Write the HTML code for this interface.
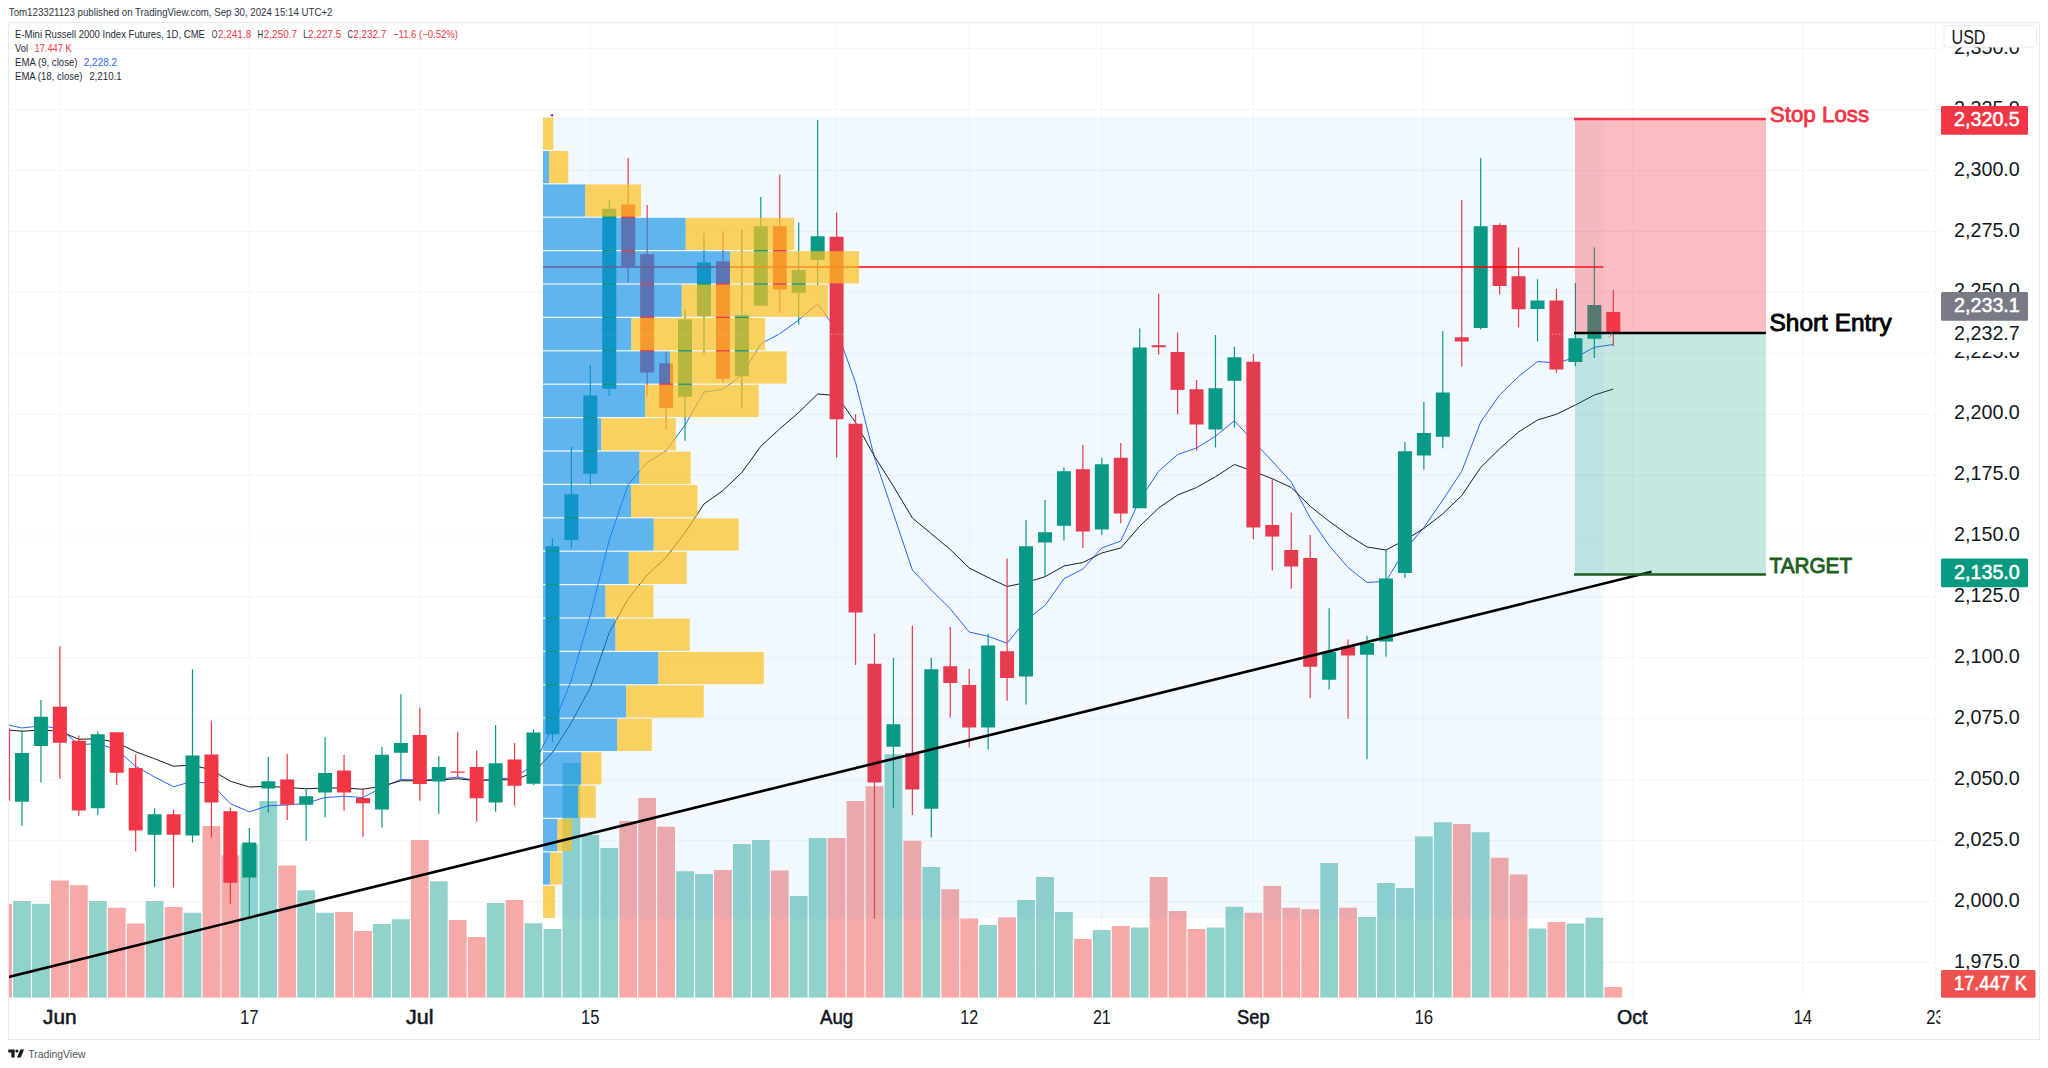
<!DOCTYPE html>
<html lang="en"><head><meta charset="utf-8"><title>E-Mini Russell 2000 Index Futures</title>
<style>html,body{margin:0;padding:0;background:#fff;}body{width:2048px;height:1068px;overflow:hidden;}svg{display:block;font-family:"Liberation Sans", sans-serif;}</style>
</head><body>
<svg width="2048" height="1068" viewBox="0 0 2048 1068">
<defs><clipPath id="pane"><rect x="8.4" y="22.5" width="1931.9" height="975.3"/></clipPath>
<clipPath id="taxis"><rect x="8.4" y="997.8" width="1931.9" height="41.5"/></clipPath></defs>
<rect x="0" y="0" width="2048" height="1068" fill="#ffffff"/>
<g>
<line x1="8.4" y1="48.66" x2="1940.3" y2="48.66" stroke="#F4F5F6" stroke-width="1"/>
<line x1="8.4" y1="109.58" x2="1940.3" y2="109.58" stroke="#F4F5F6" stroke-width="1"/>
<line x1="8.4" y1="170.5" x2="1940.3" y2="170.5" stroke="#F4F5F6" stroke-width="1"/>
<line x1="8.4" y1="231.42" x2="1940.3" y2="231.42" stroke="#F4F5F6" stroke-width="1"/>
<line x1="8.4" y1="292.34" x2="1940.3" y2="292.34" stroke="#F4F5F6" stroke-width="1"/>
<line x1="8.4" y1="353.26" x2="1940.3" y2="353.26" stroke="#F4F5F6" stroke-width="1"/>
<line x1="8.4" y1="414.18" x2="1940.3" y2="414.18" stroke="#F4F5F6" stroke-width="1"/>
<line x1="8.4" y1="475.1" x2="1940.3" y2="475.1" stroke="#F4F5F6" stroke-width="1"/>
<line x1="8.4" y1="536.02" x2="1940.3" y2="536.02" stroke="#F4F5F6" stroke-width="1"/>
<line x1="8.4" y1="596.94" x2="1940.3" y2="596.94" stroke="#F4F5F6" stroke-width="1"/>
<line x1="8.4" y1="657.86" x2="1940.3" y2="657.86" stroke="#F4F5F6" stroke-width="1"/>
<line x1="8.4" y1="718.78" x2="1940.3" y2="718.78" stroke="#F4F5F6" stroke-width="1"/>
<line x1="8.4" y1="779.7" x2="1940.3" y2="779.7" stroke="#F4F5F6" stroke-width="1"/>
<line x1="8.4" y1="840.62" x2="1940.3" y2="840.62" stroke="#F4F5F6" stroke-width="1"/>
<line x1="8.4" y1="901.54" x2="1940.3" y2="901.54" stroke="#F4F5F6" stroke-width="1"/>
<line x1="8.4" y1="962.46" x2="1940.3" y2="962.46" stroke="#F4F5F6" stroke-width="1"/>
<line x1="59.89" y1="22.5" x2="59.89" y2="997.8" stroke="#F6F6F8" stroke-width="1"/>
<line x1="249.33" y1="22.5" x2="249.33" y2="997.8" stroke="#F6F6F8" stroke-width="1"/>
<line x1="419.82" y1="22.5" x2="419.82" y2="997.8" stroke="#F6F6F8" stroke-width="1"/>
<line x1="590.32" y1="22.5" x2="590.32" y2="997.8" stroke="#F6F6F8" stroke-width="1"/>
<line x1="836.59" y1="22.5" x2="836.59" y2="997.8" stroke="#F6F6F8" stroke-width="1"/>
<line x1="969.2" y1="22.5" x2="969.2" y2="997.8" stroke="#F6F6F8" stroke-width="1"/>
<line x1="1101.81" y1="22.5" x2="1101.81" y2="997.8" stroke="#F6F6F8" stroke-width="1"/>
<line x1="1253.36" y1="22.5" x2="1253.36" y2="997.8" stroke="#F6F6F8" stroke-width="1"/>
<line x1="1423.86" y1="22.5" x2="1423.86" y2="997.8" stroke="#F6F6F8" stroke-width="1"/>
<line x1="1632.24" y1="22.5" x2="1632.24" y2="997.8" stroke="#F6F6F8" stroke-width="1"/>
<line x1="1802.74" y1="22.5" x2="1802.74" y2="997.8" stroke="#F6F6F8" stroke-width="1"/>
<line x1="1935.34" y1="22.5" x2="1935.34" y2="997.8" stroke="#F6F6F8" stroke-width="1"/>
</g>
<g clip-path="url(#pane)">
<g>
<rect x="-5.84" y="903.75" width="17.8" height="94.05" fill="#F7A9A7"/>
<rect x="13.1" y="901" width="17.8" height="96.8" fill="#92D2CC"/>
<rect x="32.04" y="903.75" width="17.8" height="94.05" fill="#92D2CC"/>
<rect x="50.99" y="880.5" width="17.8" height="117.3" fill="#F7A9A7"/>
<rect x="69.93" y="885.25" width="17.8" height="112.55" fill="#F7A9A7"/>
<rect x="88.88" y="901" width="17.8" height="96.8" fill="#92D2CC"/>
<rect x="107.82" y="907.75" width="17.8" height="90.05" fill="#F7A9A7"/>
<rect x="126.76" y="923.5" width="17.8" height="74.3" fill="#F7A9A7"/>
<rect x="145.71" y="901" width="17.8" height="96.8" fill="#92D2CC"/>
<rect x="164.65" y="907" width="17.8" height="90.8" fill="#F7A9A7"/>
<rect x="183.6" y="912.75" width="17.8" height="85.05" fill="#92D2CC"/>
<rect x="202.54" y="826" width="17.8" height="171.8" fill="#F7A9A7"/>
<rect x="221.48" y="855.5" width="17.8" height="142.3" fill="#F7A9A7"/>
<rect x="240.43" y="844.5" width="17.8" height="153.3" fill="#92D2CC"/>
<rect x="259.37" y="801" width="17.8" height="196.8" fill="#92D2CC"/>
<rect x="278.32" y="865.5" width="17.8" height="132.3" fill="#F7A9A7"/>
<rect x="297.26" y="890.25" width="17.8" height="107.55" fill="#92D2CC"/>
<rect x="316.2" y="912.75" width="17.8" height="85.05" fill="#92D2CC"/>
<rect x="335.15" y="912" width="17.8" height="85.8" fill="#F7A9A7"/>
<rect x="354.09" y="931" width="17.8" height="66.8" fill="#F7A9A7"/>
<rect x="373.04" y="924" width="17.8" height="73.8" fill="#92D2CC"/>
<rect x="391.98" y="919.25" width="17.8" height="78.55" fill="#92D2CC"/>
<rect x="410.92" y="840" width="17.8" height="157.8" fill="#F7A9A7"/>
<rect x="429.87" y="881.25" width="17.8" height="116.55" fill="#92D2CC"/>
<rect x="448.81" y="920" width="17.8" height="77.8" fill="#F7A9A7"/>
<rect x="467.76" y="937" width="17.8" height="60.8" fill="#F7A9A7"/>
<rect x="486.7" y="903" width="17.8" height="94.8" fill="#92D2CC"/>
<rect x="505.64" y="900" width="17.8" height="97.8" fill="#F7A9A7"/>
<rect x="524.59" y="923.25" width="17.8" height="74.55" fill="#92D2CC"/>
<rect x="543.53" y="929" width="17.8" height="68.8" fill="#92D2CC"/>
<rect x="562.48" y="763" width="17.8" height="234.8" fill="#92D2CC"/>
<rect x="581.42" y="835" width="17.8" height="162.8" fill="#92D2CC"/>
<rect x="600.36" y="848" width="17.8" height="149.8" fill="#92D2CC"/>
<rect x="619.31" y="821" width="17.8" height="176.8" fill="#F7A9A7"/>
<rect x="638.25" y="798" width="17.8" height="199.8" fill="#F7A9A7"/>
<rect x="657.2" y="826.75" width="17.8" height="171.05" fill="#F7A9A7"/>
<rect x="676.14" y="871.25" width="17.8" height="126.55" fill="#92D2CC"/>
<rect x="695.08" y="874" width="17.8" height="123.8" fill="#92D2CC"/>
<rect x="714.03" y="870" width="17.8" height="127.8" fill="#F7A9A7"/>
<rect x="732.97" y="844" width="17.8" height="153.8" fill="#92D2CC"/>
<rect x="751.92" y="840" width="17.8" height="157.8" fill="#92D2CC"/>
<rect x="770.86" y="870.5" width="17.8" height="127.3" fill="#F7A9A7"/>
<rect x="789.8" y="896" width="17.8" height="101.8" fill="#92D2CC"/>
<rect x="808.75" y="838" width="17.8" height="159.8" fill="#92D2CC"/>
<rect x="827.69" y="838" width="17.8" height="159.8" fill="#F7A9A7"/>
<rect x="846.64" y="801" width="17.8" height="196.8" fill="#F7A9A7"/>
<rect x="865.58" y="786.25" width="17.8" height="211.55" fill="#F7A9A7"/>
<rect x="884.52" y="754.25" width="17.8" height="243.55" fill="#92D2CC"/>
<rect x="903.47" y="840.75" width="17.8" height="157.05" fill="#F7A9A7"/>
<rect x="922.41" y="867" width="17.8" height="130.8" fill="#92D2CC"/>
<rect x="941.36" y="889.25" width="17.8" height="108.55" fill="#F7A9A7"/>
<rect x="960.3" y="918.5" width="17.8" height="79.3" fill="#F7A9A7"/>
<rect x="979.24" y="925" width="17.8" height="72.8" fill="#92D2CC"/>
<rect x="998.19" y="917.5" width="17.8" height="80.3" fill="#F7A9A7"/>
<rect x="1017.13" y="900" width="17.8" height="97.8" fill="#92D2CC"/>
<rect x="1036.08" y="877" width="17.8" height="120.8" fill="#92D2CC"/>
<rect x="1055.02" y="912" width="17.8" height="85.8" fill="#92D2CC"/>
<rect x="1073.96" y="939" width="17.8" height="58.8" fill="#F7A9A7"/>
<rect x="1092.91" y="930" width="17.8" height="67.8" fill="#92D2CC"/>
<rect x="1111.85" y="926" width="17.8" height="71.8" fill="#F7A9A7"/>
<rect x="1130.8" y="927.5" width="17.8" height="70.3" fill="#92D2CC"/>
<rect x="1149.74" y="877" width="17.8" height="120.8" fill="#F7A9A7"/>
<rect x="1168.68" y="911" width="17.8" height="86.8" fill="#F7A9A7"/>
<rect x="1187.63" y="929" width="17.8" height="68.8" fill="#F7A9A7"/>
<rect x="1206.57" y="927.5" width="17.8" height="70.3" fill="#92D2CC"/>
<rect x="1225.52" y="906.75" width="17.8" height="91.05" fill="#92D2CC"/>
<rect x="1244.46" y="912.75" width="17.8" height="85.05" fill="#F7A9A7"/>
<rect x="1263.4" y="886" width="17.8" height="111.8" fill="#F7A9A7"/>
<rect x="1282.35" y="907.75" width="17.8" height="90.05" fill="#F7A9A7"/>
<rect x="1301.29" y="909.25" width="17.8" height="88.55" fill="#F7A9A7"/>
<rect x="1320.24" y="863" width="17.8" height="134.8" fill="#92D2CC"/>
<rect x="1339.18" y="907.75" width="17.8" height="90.05" fill="#F7A9A7"/>
<rect x="1358.12" y="917" width="17.8" height="80.8" fill="#92D2CC"/>
<rect x="1377.07" y="883" width="17.8" height="114.8" fill="#92D2CC"/>
<rect x="1396.01" y="888" width="17.8" height="109.8" fill="#92D2CC"/>
<rect x="1414.96" y="836.5" width="17.8" height="161.3" fill="#92D2CC"/>
<rect x="1433.9" y="822.25" width="17.8" height="175.55" fill="#92D2CC"/>
<rect x="1452.84" y="824" width="17.8" height="173.8" fill="#F7A9A7"/>
<rect x="1471.79" y="832.25" width="17.8" height="165.55" fill="#92D2CC"/>
<rect x="1490.73" y="857.75" width="17.8" height="140.05" fill="#F7A9A7"/>
<rect x="1509.68" y="874.5" width="17.8" height="123.3" fill="#F7A9A7"/>
<rect x="1528.62" y="928.5" width="17.8" height="69.3" fill="#92D2CC"/>
<rect x="1547.56" y="922" width="17.8" height="75.8" fill="#F7A9A7"/>
<rect x="1566.51" y="923.5" width="17.8" height="74.3" fill="#92D2CC"/>
<rect x="1585.45" y="917.75" width="17.8" height="80.05" fill="#92D2CC"/>
<rect x="1604.4" y="987" width="17.8" height="10.8" fill="#F7A9A7"/>
</g>
<polyline points="3.06,723.75 22,728 40.94,725.75 59.89,728.75 78.83,744.5 97.78,743.75 116.72,749.5 135.66,766.25 154.61,777 173.55,786.75 192.5,781.25 211.44,783.75 230.38,803.75 249.33,811.75 268.27,805.75 287.22,805 306.16,803.25 325.1,797.5 344.05,796.25 362.99,797.5 381.94,787.5 400.88,779.5 419.82,780 438.77,779.25 457.71,777 476.66,780.75 495.6,779.25 514.54,777.5 533.49,765 552.43,727.5 571.38,680 590.32,615 609.26,540 628.21,484.5 647.15,462.5 666.1,450.75 685.04,425 703.98,392 722.93,389.25 741.87,375 760.82,343.75 779.76,333.75 798.7,320 817.65,303.75 836.59,330 855.54,382.5 874.48,457.5 893.42,513.75 912.37,570 931.31,590 950.26,608.75 969.2,632 988.14,636.25 1007.09,643.25 1026.03,620 1044.98,605.5 1063.92,578.75 1082.86,569 1101.81,548 1120.75,541 1139.7,500 1158.64,471.25 1177.58,454.5 1196.53,448 1215.47,436.25 1234.42,420.75 1253.36,441.25 1272.3,461.25 1291.25,482 1310.19,518 1329.14,545.5 1348.08,567.5 1367.02,582.5 1385.97,581.25 1404.91,550 1423.86,527.5 1442.8,500 1461.74,471.25 1480.69,422 1499.63,395 1518.58,376.5 1537.52,361.5 1556.46,363 1575.41,357.5 1594.35,347.25 1613.3,344.5" fill="none" stroke="#2962FF" stroke-width="1" stroke-linejoin="round"/>
<polyline points="3.06,729.5 22,731.25 40.94,730 59.89,731.25 78.83,739.25 97.78,738.75 116.72,742.5 135.66,751.75 154.61,758.75 173.55,766.25 192.5,765 211.44,770 230.38,781.25 249.33,787 268.27,786.25 287.22,787.5 306.16,788.75 325.1,788 344.05,788 362.99,789.25 381.94,786.25 400.88,780.75 419.82,780.75 438.77,780 457.71,778.75 476.66,780.75 495.6,779.5 514.54,780 533.49,772.5 552.43,752.5 571.38,722.5 590.32,687.5 609.26,632.5 628.21,598.75 647.15,575 666.1,557.5 685.04,532.5 703.98,504 722.93,490.5 741.87,472.5 760.82,446.25 779.76,428.75 798.7,412.5 817.65,394 836.59,395.5 855.54,422.5 874.48,456.25 893.42,486.25 912.37,518 931.31,533.75 950.26,549.5 969.2,568 988.14,577.5 1007.09,586.5 1026.03,582.5 1044.98,576.75 1063.92,566 1082.86,562.5 1101.81,553 1120.75,548 1139.7,526.25 1158.64,508 1177.58,495 1196.53,487.5 1215.47,476.75 1234.42,464.5 1253.36,471.25 1272.3,478.75 1291.25,487.5 1310.19,506.25 1329.14,521.25 1348.08,535 1367.02,547 1385.97,550 1404.91,540 1423.86,528.5 1442.8,513.75 1461.74,495.5 1480.69,467.5 1499.63,448.75 1518.58,432 1537.52,420 1556.46,414.25 1575.41,405 1594.35,395 1613.3,389" fill="none" stroke="#1a1a1a" stroke-width="1" stroke-linejoin="round"/>
<g>
<rect x="2.46" y="720" width="1.2" height="86" fill="#F23645"/>
<rect x="-3.94" y="728.25" width="14" height="72.5" fill="#F23645"/>
<rect x="21.4" y="730" width="1.2" height="95.75" fill="#089981"/>
<rect x="15" y="753" width="14" height="48.75" fill="#089981"/>
<rect x="40.34" y="700" width="1.2" height="82.5" fill="#089981"/>
<rect x="33.94" y="716.75" width="14" height="29.25" fill="#089981"/>
<rect x="59.29" y="646.25" width="1.2" height="132.5" fill="#F23645"/>
<rect x="52.89" y="706.75" width="14" height="36" fill="#F23645"/>
<rect x="78.23" y="735.5" width="1.2" height="80.25" fill="#F23645"/>
<rect x="71.83" y="740.75" width="14" height="69.75" fill="#F23645"/>
<rect x="97.18" y="731.25" width="1.2" height="83.75" fill="#089981"/>
<rect x="90.78" y="734.25" width="14" height="74" fill="#089981"/>
<rect x="116.12" y="732.25" width="1.2" height="52.75" fill="#F23645"/>
<rect x="109.72" y="732.25" width="14" height="40.5" fill="#F23645"/>
<rect x="135.06" y="754.5" width="1.2" height="96.75" fill="#F23645"/>
<rect x="128.66" y="768" width="14" height="62.5" fill="#F23645"/>
<rect x="154.01" y="808.25" width="1.2" height="78.5" fill="#089981"/>
<rect x="147.61" y="814.25" width="14" height="20.5" fill="#089981"/>
<rect x="172.95" y="809.5" width="1.2" height="78" fill="#F23645"/>
<rect x="166.55" y="814.25" width="14" height="20.5" fill="#F23645"/>
<rect x="191.9" y="669.25" width="1.2" height="173.25" fill="#089981"/>
<rect x="185.5" y="755.5" width="14" height="80" fill="#089981"/>
<rect x="210.84" y="720.75" width="1.2" height="116.75" fill="#F23645"/>
<rect x="204.44" y="754.5" width="14" height="48" fill="#F23645"/>
<rect x="229.78" y="807.5" width="1.2" height="96.25" fill="#F23645"/>
<rect x="223.38" y="811.25" width="14" height="71.5" fill="#F23645"/>
<rect x="248.73" y="828" width="1.2" height="89" fill="#089981"/>
<rect x="242.33" y="842.5" width="14" height="35" fill="#089981"/>
<rect x="267.67" y="757" width="1.2" height="55.5" fill="#089981"/>
<rect x="261.27" y="781.25" width="14" height="7.25" fill="#089981"/>
<rect x="286.62" y="753.75" width="1.2" height="66.25" fill="#F23645"/>
<rect x="280.22" y="779.5" width="14" height="25.25" fill="#F23645"/>
<rect x="305.56" y="788.75" width="1.2" height="52" fill="#089981"/>
<rect x="299.16" y="796.25" width="14" height="8.5" fill="#089981"/>
<rect x="324.5" y="737" width="1.2" height="80.5" fill="#089981"/>
<rect x="318.1" y="773" width="14" height="19.5" fill="#089981"/>
<rect x="343.45" y="755" width="1.2" height="55.75" fill="#F23645"/>
<rect x="337.05" y="770.5" width="14" height="22" fill="#F23645"/>
<rect x="362.39" y="788.25" width="1.2" height="48.5" fill="#F23645"/>
<rect x="355.99" y="798" width="14" height="5.25" fill="#F23645"/>
<rect x="381.34" y="746.75" width="1.2" height="80.75" fill="#089981"/>
<rect x="374.94" y="754.75" width="14" height="54.75" fill="#089981"/>
<rect x="400.28" y="694.25" width="1.2" height="85" fill="#089981"/>
<rect x="393.88" y="743" width="14" height="9.75" fill="#089981"/>
<rect x="419.22" y="707.5" width="1.2" height="93.25" fill="#F23645"/>
<rect x="412.82" y="735" width="14" height="49" fill="#F23645"/>
<rect x="438.17" y="756.25" width="1.2" height="57.5" fill="#089981"/>
<rect x="431.77" y="767" width="14" height="14.5" fill="#089981"/>
<rect x="457.11" y="732" width="1.2" height="45.5" fill="#F23645"/>
<rect x="450.71" y="771.5" width="14" height="1.25" fill="#F23645"/>
<rect x="476.06" y="750.5" width="1.2" height="71.25" fill="#F23645"/>
<rect x="469.66" y="767" width="14" height="31.25" fill="#F23645"/>
<rect x="495" y="725" width="1.2" height="86.75" fill="#089981"/>
<rect x="488.6" y="763.25" width="14" height="39.25" fill="#089981"/>
<rect x="513.94" y="743" width="1.2" height="62.75" fill="#F23645"/>
<rect x="507.54" y="759.5" width="14" height="26.25" fill="#F23645"/>
<rect x="532.89" y="729.25" width="1.2" height="55.75" fill="#089981"/>
<rect x="526.49" y="732.5" width="14" height="51.25" fill="#089981"/>
<rect x="551.83" y="538" width="1.2" height="204.5" fill="#089981"/>
<rect x="545.43" y="546.25" width="14" height="188" fill="#089981"/>
<rect x="570.78" y="447" width="1.2" height="101.25" fill="#089981"/>
<rect x="564.38" y="494.25" width="14" height="45.75" fill="#089981"/>
<rect x="589.72" y="365" width="1.2" height="119.5" fill="#089981"/>
<rect x="583.32" y="395.5" width="14" height="78.25" fill="#089981"/>
<rect x="608.66" y="200" width="1.2" height="196" fill="#089981"/>
<rect x="602.26" y="208.75" width="14" height="180" fill="#089981"/>
<rect x="627.61" y="158" width="1.2" height="124.5" fill="#F23645"/>
<rect x="621.21" y="204.5" width="14" height="61.75" fill="#F23645"/>
<rect x="646.55" y="205" width="1.2" height="191.25" fill="#F23645"/>
<rect x="640.15" y="254.25" width="14" height="118.25" fill="#F23645"/>
<rect x="665.5" y="352.5" width="1.2" height="76.75" fill="#F23645"/>
<rect x="659.1" y="363.25" width="14" height="44.75" fill="#F23645"/>
<rect x="684.44" y="309.5" width="1.2" height="131.25" fill="#089981"/>
<rect x="678.04" y="319.5" width="14" height="77.25" fill="#089981"/>
<rect x="703.38" y="233.25" width="1.2" height="121.25" fill="#089981"/>
<rect x="696.98" y="262.5" width="14" height="53.75" fill="#089981"/>
<rect x="722.33" y="231.75" width="1.2" height="151.25" fill="#F23645"/>
<rect x="715.93" y="261.25" width="14" height="117.5" fill="#F23645"/>
<rect x="741.27" y="229.25" width="1.2" height="179" fill="#089981"/>
<rect x="734.87" y="315" width="14" height="61.25" fill="#089981"/>
<rect x="760.22" y="197" width="1.2" height="108.75" fill="#089981"/>
<rect x="753.82" y="226.25" width="14" height="79.5" fill="#089981"/>
<rect x="779.16" y="174.5" width="1.2" height="138" fill="#F23645"/>
<rect x="772.76" y="226.25" width="14" height="63.25" fill="#F23645"/>
<rect x="798.1" y="222.5" width="1.2" height="102" fill="#089981"/>
<rect x="791.7" y="270" width="14" height="22.75" fill="#089981"/>
<rect x="817.05" y="120" width="1.2" height="165" fill="#089981"/>
<rect x="810.65" y="236.25" width="14" height="23.75" fill="#089981"/>
<rect x="835.99" y="212.5" width="1.2" height="245" fill="#F23645"/>
<rect x="829.59" y="236.75" width="14" height="182.5" fill="#F23645"/>
<rect x="854.94" y="414.25" width="1.2" height="250.75" fill="#F23645"/>
<rect x="848.54" y="423.75" width="14" height="188.75" fill="#F23645"/>
<rect x="873.88" y="633.75" width="1.2" height="285" fill="#F23645"/>
<rect x="867.48" y="663.75" width="14" height="118.75" fill="#F23645"/>
<rect x="892.82" y="658" width="1.2" height="150.25" fill="#089981"/>
<rect x="886.42" y="724.25" width="14" height="22.5" fill="#089981"/>
<rect x="911.77" y="625.75" width="1.2" height="189.25" fill="#F23645"/>
<rect x="905.37" y="753" width="14" height="36.5" fill="#F23645"/>
<rect x="930.71" y="658" width="1.2" height="179.5" fill="#089981"/>
<rect x="924.31" y="669.25" width="14" height="139.5" fill="#089981"/>
<rect x="949.66" y="627" width="1.2" height="90.5" fill="#F23645"/>
<rect x="943.26" y="666.25" width="14" height="16.75" fill="#F23645"/>
<rect x="968.6" y="668.75" width="1.2" height="78.75" fill="#F23645"/>
<rect x="962.2" y="685" width="14" height="42.5" fill="#F23645"/>
<rect x="987.54" y="633.75" width="1.2" height="115.75" fill="#089981"/>
<rect x="981.14" y="645.5" width="14" height="82" fill="#089981"/>
<rect x="1006.49" y="558.5" width="1.2" height="142.25" fill="#F23645"/>
<rect x="1000.09" y="651.25" width="14" height="26.75" fill="#F23645"/>
<rect x="1025.43" y="520" width="1.2" height="184.5" fill="#089981"/>
<rect x="1019.03" y="546.25" width="14" height="130.25" fill="#089981"/>
<rect x="1044.38" y="500" width="1.2" height="76.25" fill="#089981"/>
<rect x="1037.98" y="532.25" width="14" height="10.25" fill="#089981"/>
<rect x="1063.32" y="467.5" width="1.2" height="73" fill="#089981"/>
<rect x="1056.92" y="471.25" width="14" height="54.5" fill="#089981"/>
<rect x="1082.26" y="445" width="1.2" height="103" fill="#F23645"/>
<rect x="1075.86" y="469.25" width="14" height="62.25" fill="#F23645"/>
<rect x="1101.21" y="458" width="1.2" height="77" fill="#089981"/>
<rect x="1094.81" y="464.25" width="14" height="65.25" fill="#089981"/>
<rect x="1120.15" y="443" width="1.2" height="80.25" fill="#F23645"/>
<rect x="1113.75" y="457.75" width="14" height="55.75" fill="#F23645"/>
<rect x="1139.1" y="328.25" width="1.2" height="180" fill="#089981"/>
<rect x="1132.7" y="347.5" width="14" height="160.75" fill="#089981"/>
<rect x="1158.04" y="293.75" width="1.2" height="60.75" fill="#F23645"/>
<rect x="1151.64" y="345.25" width="14" height="2" fill="#F23645"/>
<rect x="1176.98" y="332.5" width="1.2" height="81.75" fill="#F23645"/>
<rect x="1170.58" y="352" width="14" height="37.9" fill="#F23645"/>
<rect x="1195.93" y="380" width="1.2" height="70.5" fill="#F23645"/>
<rect x="1189.53" y="389.25" width="14" height="35.25" fill="#F23645"/>
<rect x="1214.87" y="335" width="1.2" height="112.5" fill="#089981"/>
<rect x="1208.47" y="388.25" width="14" height="41.25" fill="#089981"/>
<rect x="1233.82" y="346.75" width="1.2" height="80.75" fill="#089981"/>
<rect x="1227.42" y="357.3" width="14" height="23.5" fill="#089981"/>
<rect x="1252.76" y="354" width="1.2" height="185.25" fill="#F23645"/>
<rect x="1246.36" y="361.75" width="14" height="165.75" fill="#F23645"/>
<rect x="1271.7" y="479.25" width="1.2" height="91.25" fill="#F23645"/>
<rect x="1265.3" y="525" width="14" height="11.5" fill="#F23645"/>
<rect x="1290.65" y="512.5" width="1.2" height="76.25" fill="#F23645"/>
<rect x="1284.25" y="550" width="14" height="16.5" fill="#F23645"/>
<rect x="1309.59" y="535" width="1.2" height="163" fill="#F23645"/>
<rect x="1303.19" y="558" width="14" height="108.75" fill="#F23645"/>
<rect x="1328.54" y="608.25" width="1.2" height="81.25" fill="#089981"/>
<rect x="1322.14" y="652" width="14" height="27.75" fill="#089981"/>
<rect x="1347.48" y="639.5" width="1.2" height="79.25" fill="#F23645"/>
<rect x="1341.08" y="646.25" width="14" height="9.25" fill="#F23645"/>
<rect x="1366.42" y="635.75" width="1.2" height="123.5" fill="#089981"/>
<rect x="1360.02" y="643" width="14" height="11.75" fill="#089981"/>
<rect x="1385.37" y="550" width="1.2" height="106.75" fill="#089981"/>
<rect x="1378.97" y="578.5" width="14" height="63" fill="#089981"/>
<rect x="1404.31" y="442" width="1.2" height="136" fill="#089981"/>
<rect x="1397.91" y="451.25" width="14" height="121.75" fill="#089981"/>
<rect x="1423.26" y="402" width="1.2" height="67.5" fill="#089981"/>
<rect x="1416.86" y="433" width="14" height="22.5" fill="#089981"/>
<rect x="1442.2" y="331" width="1.2" height="117.25" fill="#089981"/>
<rect x="1435.8" y="392.5" width="14" height="44.25" fill="#089981"/>
<rect x="1461.14" y="200" width="1.2" height="166.5" fill="#F23645"/>
<rect x="1454.74" y="337.25" width="14" height="4.25" fill="#F23645"/>
<rect x="1480.09" y="158" width="1.2" height="171.5" fill="#089981"/>
<rect x="1473.69" y="226.25" width="14" height="101.75" fill="#089981"/>
<rect x="1499.03" y="223.25" width="1.2" height="71.25" fill="#F23645"/>
<rect x="1492.63" y="225" width="14" height="61" fill="#F23645"/>
<rect x="1517.98" y="247.5" width="1.2" height="80" fill="#F23645"/>
<rect x="1511.58" y="276.25" width="14" height="33" fill="#F23645"/>
<rect x="1536.92" y="279.25" width="1.2" height="62.25" fill="#089981"/>
<rect x="1530.52" y="300.5" width="14" height="8.5" fill="#089981"/>
<rect x="1555.86" y="288.75" width="1.2" height="84.25" fill="#F23645"/>
<rect x="1549.46" y="300.5" width="14" height="69" fill="#F23645"/>
<rect x="1574.81" y="283" width="1.2" height="83.25" fill="#089981"/>
<rect x="1568.41" y="338.25" width="14" height="23.75" fill="#089981"/>
<rect x="1593.75" y="247.5" width="1.2" height="110.5" fill="#089981"/>
<rect x="1587.35" y="305" width="14" height="33.75" fill="#089981"/>
<rect x="1612.7" y="290" width="1.2" height="56.25" fill="#F23645"/>
<rect x="1606.3" y="312" width="14" height="21" fill="#F23645"/>
</g>
<line x1="8.4" y1="334.2" x2="1940.3" y2="334.2" stroke="#ffffff" stroke-width="1" stroke-dasharray="1.2 2.3" stroke-opacity="0.6"/>
<rect x="543" y="117" width="1060.3" height="801.6" fill="#2196F3" fill-opacity="0.06"/>
<line x1="543" y1="267" x2="1603.3" y2="267" stroke="#FF0000" stroke-width="1.5"/>
<g>
<rect x="543" y="117.6" width="10.25" height="32.2" fill="#FBC123" fill-opacity="0.72"/>
<rect x="543" y="151" width="6" height="32.2" fill="#1592E6" fill-opacity="0.66"/>
<rect x="549" y="151" width="19.25" height="32.2" fill="#FBC123" fill-opacity="0.72"/>
<rect x="543" y="184.4" width="42" height="32.2" fill="#1592E6" fill-opacity="0.66"/>
<rect x="585" y="184.4" width="56" height="32.2" fill="#FBC123" fill-opacity="0.72"/>
<rect x="543" y="217.8" width="142.75" height="32.2" fill="#1592E6" fill-opacity="0.66"/>
<rect x="685.75" y="217.8" width="108.5" height="32.2" fill="#FBC123" fill-opacity="0.72"/>
<rect x="543" y="251.2" width="187" height="32.2" fill="#1592E6" fill-opacity="0.66"/>
<rect x="730" y="251.2" width="129" height="32.2" fill="#FBC123" fill-opacity="0.72"/>
<rect x="543" y="284.6" width="138.75" height="32.2" fill="#1592E6" fill-opacity="0.66"/>
<rect x="681.75" y="284.6" width="146.25" height="32.2" fill="#FBC123" fill-opacity="0.72"/>
<rect x="543" y="318" width="88.25" height="32.2" fill="#1592E6" fill-opacity="0.66"/>
<rect x="631.25" y="318" width="133.75" height="32.2" fill="#FBC123" fill-opacity="0.72"/>
<rect x="543" y="351.4" width="127" height="32.2" fill="#1592E6" fill-opacity="0.66"/>
<rect x="670" y="351.4" width="116.75" height="32.2" fill="#FBC123" fill-opacity="0.72"/>
<rect x="543" y="384.8" width="102" height="32.2" fill="#1592E6" fill-opacity="0.66"/>
<rect x="645" y="384.8" width="113.75" height="32.2" fill="#FBC123" fill-opacity="0.72"/>
<rect x="543" y="418.2" width="58.25" height="32.2" fill="#1592E6" fill-opacity="0.66"/>
<rect x="601.25" y="418.2" width="74.5" height="32.2" fill="#FBC123" fill-opacity="0.72"/>
<rect x="543" y="451.6" width="96.5" height="32.2" fill="#1592E6" fill-opacity="0.66"/>
<rect x="639.5" y="451.6" width="51.25" height="32.2" fill="#FBC123" fill-opacity="0.72"/>
<rect x="543" y="485" width="88" height="32.2" fill="#1592E6" fill-opacity="0.66"/>
<rect x="631" y="485" width="66.5" height="32.2" fill="#FBC123" fill-opacity="0.72"/>
<rect x="543" y="518.4" width="110.75" height="32.2" fill="#1592E6" fill-opacity="0.66"/>
<rect x="653.75" y="518.4" width="85" height="32.2" fill="#FBC123" fill-opacity="0.72"/>
<rect x="543" y="551.8" width="85.75" height="32.2" fill="#1592E6" fill-opacity="0.66"/>
<rect x="628.75" y="551.8" width="58" height="32.2" fill="#FBC123" fill-opacity="0.72"/>
<rect x="543" y="585.2" width="62.5" height="32.2" fill="#1592E6" fill-opacity="0.66"/>
<rect x="605.5" y="585.2" width="48" height="32.2" fill="#FBC123" fill-opacity="0.72"/>
<rect x="543" y="618.6" width="72.5" height="32.2" fill="#1592E6" fill-opacity="0.66"/>
<rect x="615.5" y="618.6" width="74.25" height="32.2" fill="#FBC123" fill-opacity="0.72"/>
<rect x="543" y="652" width="115.5" height="32.2" fill="#1592E6" fill-opacity="0.66"/>
<rect x="658.5" y="652" width="105.25" height="32.2" fill="#FBC123" fill-opacity="0.72"/>
<rect x="543" y="685.4" width="83.25" height="32.2" fill="#1592E6" fill-opacity="0.66"/>
<rect x="626.25" y="685.4" width="77.5" height="32.2" fill="#FBC123" fill-opacity="0.72"/>
<rect x="543" y="718.8" width="74" height="32.2" fill="#1592E6" fill-opacity="0.66"/>
<rect x="617" y="718.8" width="34.75" height="32.2" fill="#FBC123" fill-opacity="0.72"/>
<rect x="543" y="752.2" width="38.5" height="32.2" fill="#1592E6" fill-opacity="0.66"/>
<rect x="581.5" y="752.2" width="20" height="32.2" fill="#FBC123" fill-opacity="0.72"/>
<rect x="543" y="785.6" width="35.25" height="32.2" fill="#1592E6" fill-opacity="0.66"/>
<rect x="578.25" y="785.6" width="17.5" height="32.2" fill="#FBC123" fill-opacity="0.72"/>
<rect x="543" y="819" width="14.5" height="32.2" fill="#1592E6" fill-opacity="0.66"/>
<rect x="557.5" y="819" width="14.5" height="32.2" fill="#FBC123" fill-opacity="0.72"/>
<rect x="543" y="852.4" width="7" height="32.2" fill="#1592E6" fill-opacity="0.66"/>
<rect x="550" y="852.4" width="12" height="32.2" fill="#FBC123" fill-opacity="0.72"/>
<rect x="543" y="885.8" width="12" height="32.2" fill="#FBC123" fill-opacity="0.72"/>
</g>
<circle cx="552" cy="115.2" r="1.3" fill="#9C27B0"/>
<line x1="0" y1="979.1" x2="1651.5" y2="571.84" stroke="#000000" stroke-width="2.6" stroke-linecap="butt"/>
<rect x="1575" y="119" width="190.9" height="213.7" fill="#F23645" fill-opacity="0.33"/>
<rect x="1575" y="332.7" width="190.9" height="241.8" fill="#089981" fill-opacity="0.23"/>
<line x1="1574" y1="119" x2="1765.9" y2="119" stroke="#F23645" stroke-width="2.6"/>
<line x1="1574" y1="332.9" x2="1765.9" y2="332.9" stroke="#000000" stroke-width="2.5"/>
<line x1="1574" y1="574.5" x2="1765.9" y2="574.5" stroke="#1B5E20" stroke-width="2.6"/>
<path d="M1608.8 329.8 L1612.2 333.6 L1608.8 337.6" fill="none" stroke="#787B86" stroke-width="0.8"/>
<text x="1769.8" y="121.8" font-size="22.3" fill="#F23645" stroke="#F23645" stroke-width="0.8" stroke-linejoin="round" textLength="99.4" lengthAdjust="spacingAndGlyphs">Stop Loss</text>
<text x="1769.6" y="330.7" font-size="23.4" fill="#000000" stroke="#000000" stroke-width="0.9" stroke-linejoin="round" textLength="122" lengthAdjust="spacingAndGlyphs">Short Entry</text>
<text x="1769.6" y="573.1" font-size="22.3" fill="#1B5E20" stroke="#1B5E20" stroke-width="0.9" stroke-linejoin="round" textLength="82.5" lengthAdjust="spacingAndGlyphs">TARGET</text>
</g>
<g shape-rendering="crispEdges" fill="none" stroke="#E9EAEF" stroke-width="1">
<rect x="8.4" y="22.5" width="2030.9" height="1016.8"/>
</g>
<text x="1954" y="53.76" font-size="20.2" fill="#131722" textLength="65.8" lengthAdjust="spacingAndGlyphs">2,350.0</text>
<text x="1954" y="114.68" font-size="20.2" fill="#131722" textLength="65.8" lengthAdjust="spacingAndGlyphs">2,325.0</text>
<text x="1954" y="175.6" font-size="20.2" fill="#131722" textLength="65.8" lengthAdjust="spacingAndGlyphs">2,300.0</text>
<text x="1954" y="236.52" font-size="20.2" fill="#131722" textLength="65.8" lengthAdjust="spacingAndGlyphs">2,275.0</text>
<text x="1954" y="297.44" font-size="20.2" fill="#131722" textLength="65.8" lengthAdjust="spacingAndGlyphs">2,250.0</text>
<text x="1954" y="358.35" font-size="20.2" fill="#131722" textLength="65.8" lengthAdjust="spacingAndGlyphs">2,225.0</text>
<text x="1954" y="419.27" font-size="20.2" fill="#131722" textLength="65.8" lengthAdjust="spacingAndGlyphs">2,200.0</text>
<text x="1954" y="480.19" font-size="20.2" fill="#131722" textLength="65.8" lengthAdjust="spacingAndGlyphs">2,175.0</text>
<text x="1954" y="541.11" font-size="20.2" fill="#131722" textLength="65.8" lengthAdjust="spacingAndGlyphs">2,150.0</text>
<text x="1954" y="602.02" font-size="20.2" fill="#131722" textLength="65.8" lengthAdjust="spacingAndGlyphs">2,125.0</text>
<text x="1954" y="662.94" font-size="20.2" fill="#131722" textLength="65.8" lengthAdjust="spacingAndGlyphs">2,100.0</text>
<text x="1954" y="723.86" font-size="20.2" fill="#131722" textLength="65.8" lengthAdjust="spacingAndGlyphs">2,075.0</text>
<text x="1954" y="784.78" font-size="20.2" fill="#131722" textLength="65.8" lengthAdjust="spacingAndGlyphs">2,050.0</text>
<text x="1954" y="845.69" font-size="20.2" fill="#131722" textLength="65.8" lengthAdjust="spacingAndGlyphs">2,025.0</text>
<text x="1954" y="906.61" font-size="20.2" fill="#131722" textLength="65.8" lengthAdjust="spacingAndGlyphs">2,000.0</text>
<text x="1954" y="967.53" font-size="20.2" fill="#131722" textLength="65.8" lengthAdjust="spacingAndGlyphs">1,975.0</text>
<rect x="1941" y="321" width="95" height="31" fill="#ffffff"/>
<text x="1954" y="340.3" font-size="20.2" fill="#131722" textLength="65.8" lengthAdjust="spacingAndGlyphs">2,232.7</text>
<rect x="1944" y="25.5" width="92.5" height="21.5" rx="3" ry="3" fill="#ffffff" stroke="#E9EAEF" stroke-width="1"/>
<text x="1951.5" y="43.8" font-size="19.5" fill="#131722" textLength="34" lengthAdjust="spacingAndGlyphs">USD</text>
<rect x="1941" y="106.1" width="87" height="28.7" fill="#F23645" rx="1.5"/>
<text x="1954" y="126.15" font-size="20.2" fill="#ffffff" stroke="#ffffff" stroke-width="0.55" stroke-linejoin="round" textLength="65.8" lengthAdjust="spacingAndGlyphs">2,320.5</text>
<rect x="1941" y="292.1" width="87" height="28.6" fill="#787B86" rx="1.5"/>
<text x="1954" y="312.1" font-size="20.2" fill="#ffffff" stroke="#ffffff" stroke-width="0.55" stroke-linejoin="round" textLength="65.8" lengthAdjust="spacingAndGlyphs">2,233.1</text>
<rect x="1941" y="558.4" width="87" height="28.8" fill="#089981" rx="1.5"/>
<text x="1954" y="578.5" font-size="20.2" fill="#ffffff" stroke="#ffffff" stroke-width="0.55" stroke-linejoin="round" textLength="65.8" lengthAdjust="spacingAndGlyphs">2,135.0</text>
<rect x="1941" y="970" width="94.5" height="27.8" fill="#EF5350" rx="1.5"/>
<text x="1954" y="989.6" font-size="20.2" fill="#ffffff" stroke="#ffffff" stroke-width="0.55" stroke-linejoin="round" textLength="73" lengthAdjust="spacingAndGlyphs">17.447 K</text>
<g clip-path="url(#taxis)">
<text x="43.14" y="1023.5" font-size="19.5" fill="#131722" stroke="#131722" stroke-width="0.55" stroke-linejoin="round" textLength="33.5" lengthAdjust="spacingAndGlyphs">Jun</text>
<text x="240.03" y="1023.5" font-size="19.5" fill="#131722" textLength="18.6" lengthAdjust="spacingAndGlyphs">17</text>
<text x="406.07" y="1023.5" font-size="19.5" fill="#131722" stroke="#131722" stroke-width="0.55" stroke-linejoin="round" textLength="27.5" lengthAdjust="spacingAndGlyphs">Jul</text>
<text x="581.12" y="1023.5" font-size="19.5" fill="#131722" textLength="18.4" lengthAdjust="spacingAndGlyphs">15</text>
<text x="819.94" y="1023.5" font-size="19.5" fill="#131722" stroke="#131722" stroke-width="0.55" stroke-linejoin="round" textLength="33.3" lengthAdjust="spacingAndGlyphs">Aug</text>
<text x="960.3" y="1023.5" font-size="19.5" fill="#131722" textLength="17.8" lengthAdjust="spacingAndGlyphs">12</text>
<text x="1092.91" y="1023.5" font-size="19.5" fill="#131722" textLength="17.8" lengthAdjust="spacingAndGlyphs">21</text>
<text x="1237.11" y="1023.5" font-size="19.5" fill="#131722" stroke="#131722" stroke-width="0.55" stroke-linejoin="round" textLength="32.5" lengthAdjust="spacingAndGlyphs">Sep</text>
<text x="1414.51" y="1023.5" font-size="19.5" fill="#131722" textLength="18.7" lengthAdjust="spacingAndGlyphs">16</text>
<text x="1616.99" y="1023.5" font-size="19.5" fill="#131722" stroke="#131722" stroke-width="0.55" stroke-linejoin="round" textLength="30.5" lengthAdjust="spacingAndGlyphs">Oct</text>
<text x="1793.39" y="1023.5" font-size="19.5" fill="#131722" textLength="18.7" lengthAdjust="spacingAndGlyphs">14</text>
<text x="1926.14" y="1023.5" font-size="19.5" fill="#131722" textLength="18.4" lengthAdjust="spacingAndGlyphs">23</text>
</g>
<text x="8.8" y="15.6" font-size="10.4" fill="#30343F" textLength="323.7" lengthAdjust="spacingAndGlyphs">Tom123321123 published on TradingView.com, Sep 30, 2024 15:14 UTC+2</text>
<text x="15" y="38.4" font-size="10.4" fill="#262A35" textLength="190" lengthAdjust="spacingAndGlyphs">E-Mini Russell 2000 Index Futures, 1D, CME</text>
<text x="211.8" y="38.4" font-size="10.4" fill="#262A35" textLength="5.6" lengthAdjust="spacingAndGlyphs">O</text>
<text x="218" y="38.4" font-size="10.4" fill="#F23645" textLength="33.2" lengthAdjust="spacingAndGlyphs">2,241.8</text>
<text x="257.5" y="38.4" font-size="10.4" fill="#262A35" textLength="5.6" lengthAdjust="spacingAndGlyphs">H</text>
<text x="263.8" y="38.4" font-size="10.4" fill="#F23645" textLength="33.2" lengthAdjust="spacingAndGlyphs">2,250.7</text>
<text x="303.2" y="38.4" font-size="10.4" fill="#262A35" textLength="4.4" lengthAdjust="spacingAndGlyphs">L</text>
<text x="308" y="38.4" font-size="10.4" fill="#F23645" textLength="33.2" lengthAdjust="spacingAndGlyphs">2,227.5</text>
<text x="347.5" y="38.4" font-size="10.4" fill="#262A35" textLength="5.4" lengthAdjust="spacingAndGlyphs">C</text>
<text x="353.2" y="38.4" font-size="10.4" fill="#F23645" textLength="33.2" lengthAdjust="spacingAndGlyphs">2,232.7</text>
<text x="393" y="38.4" font-size="10.4" fill="#F23645" textLength="65" lengthAdjust="spacingAndGlyphs">−11.6 (−0.52%)</text>
<text x="15" y="52.4" font-size="10.4" fill="#262A35" textLength="13" lengthAdjust="spacingAndGlyphs">Vol</text>
<text x="34.5" y="52.4" font-size="10.4" fill="#F23645" textLength="37.2" lengthAdjust="spacingAndGlyphs">17.447 K</text>
<text x="15" y="66.4" font-size="10.4" fill="#262A35" textLength="62.5" lengthAdjust="spacingAndGlyphs">EMA (9, close)</text>
<text x="83.8" y="66.4" font-size="10.4" fill="#2962FF" textLength="33.2" lengthAdjust="spacingAndGlyphs">2,228.2</text>
<text x="15" y="80.4" font-size="10.4" fill="#262A35" textLength="67.5" lengthAdjust="spacingAndGlyphs">EMA (18, close)</text>
<text x="89.2" y="80.4" font-size="10.4" fill="#262A35" textLength="32.5" lengthAdjust="spacingAndGlyphs">2,210.1</text>
<g fill="#131722"><path d="M8.3 1049.4h6.3v8.1h-3.2v-4.9H8.3z"/><circle cx="16.9" cy="1051" r="1.6"/><path d="M20.4 1049.4h3.7l-3.4 8.1H17z"/></g>
<text x="28.2" y="1057.5" font-size="10.6" fill="#50535E" textLength="57.3" lengthAdjust="spacingAndGlyphs">TradingView</text>
</svg></body></html>
